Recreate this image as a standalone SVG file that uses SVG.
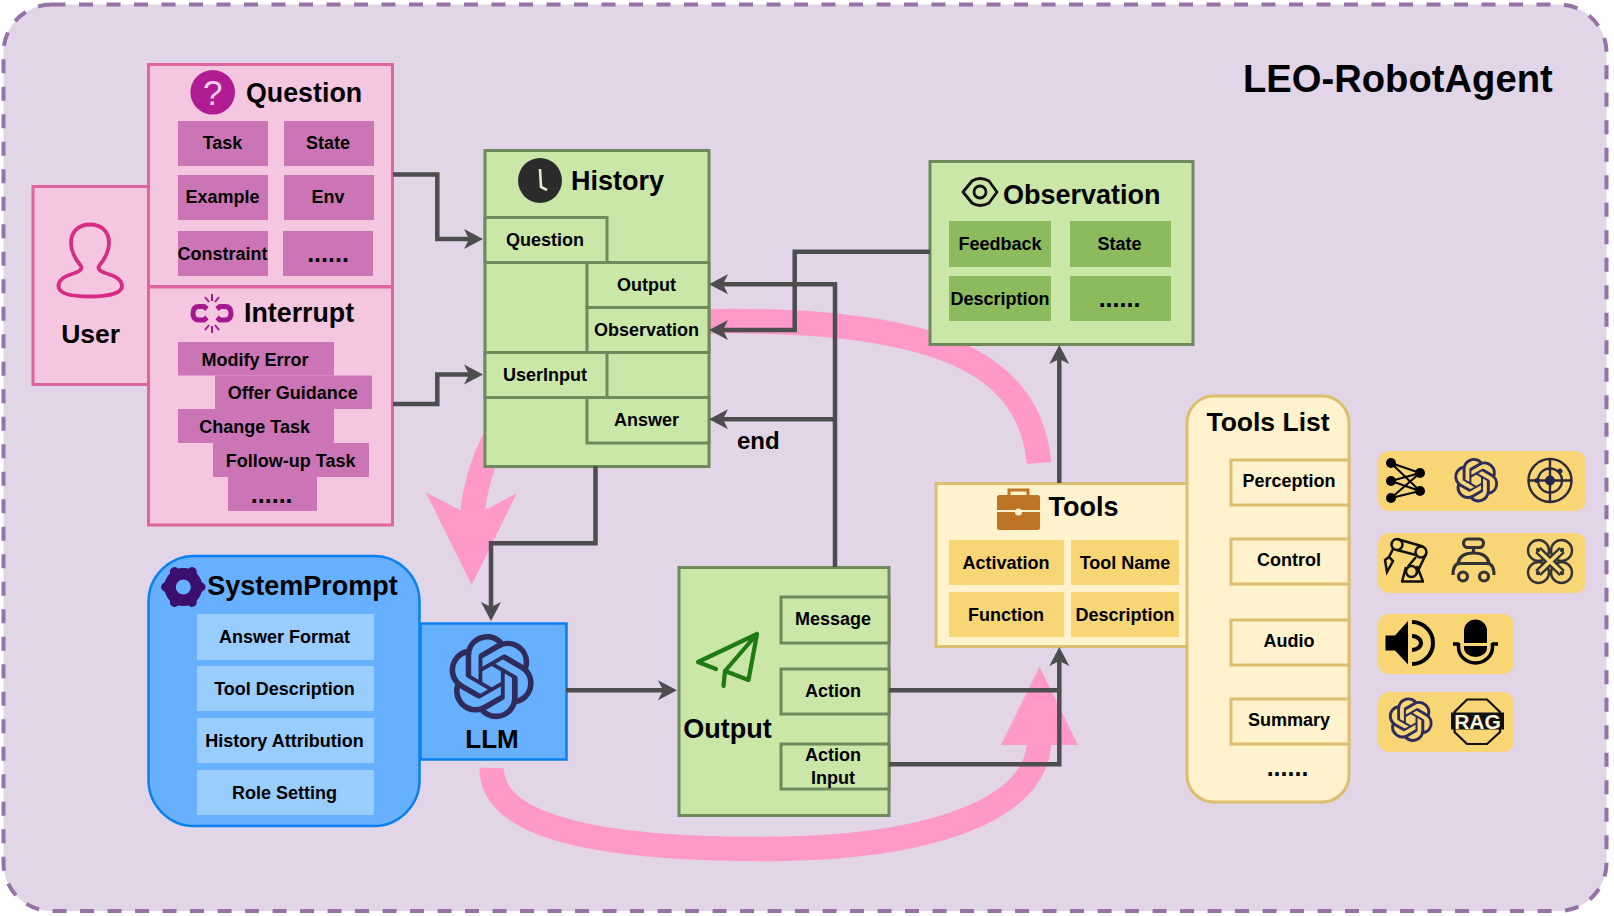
<svg xmlns="http://www.w3.org/2000/svg" xmlns:xlink="http://www.w3.org/1999/xlink" width="1614" height="916" viewBox="0 0 1614 916">
<style>
text{font-family:"Liberation Sans",Arial,sans-serif;font-weight:700;fill:#000}
.c{text-anchor:middle}
.s{font-size:18px}
.t{font-size:27px}
.d{font-size:25px}
.pink{fill:#f4c6e0;stroke:#e0659f;stroke-width:3}
.pi{fill:#cc75b6}
.green{fill:#cbe7a8;stroke:#6e8a5c;stroke-width:3}
.gi{fill:#8bbb5d}
.blue{fill:#66b0ff;stroke:#0a80f0;stroke-width:2.5}
.bi{fill:#99ccff}
.yel{fill:#fff2cc;stroke:#dcbf6e;stroke-width:3}
.yi{fill:#f8d676}
.line{fill:none;stroke:#4d4d4f;stroke-width:4.5}
.conn{fill:none;stroke:#4d4d4f;stroke-width:4.5;marker-end:url(#ah)}
.flow{fill:none;stroke:#ff99c9;stroke-width:24.5}
.ic{fill:none;stroke:#2e2a35;stroke-width:2.4}
</style>
<defs>
<marker id="ah" markerUnits="userSpaceOnUse" markerWidth="20" markerHeight="22" refX="5" refY="11" orient="auto"><path d="M19 11 L0 1 L5 11 L0 21 Z" fill="#4d4d4f"/></marker>
<path id="knot" fill-rule="evenodd" d="M22.2819 9.8211a5.9847 5.9847 0 0 0-.5157-4.9108 6.0462 6.0462 0 0 0-6.5098-2.9A6.0651 6.0651 0 0 0 4.9807 4.1818a5.9847 5.9847 0 0 0-3.9977 2.9 6.0462 6.0462 0 0 0 .7427 7.0966 5.98 5.98 0 0 0 .511 4.9107 6.051 6.051 0 0 0 6.5146 2.9001A5.9847 5.9847 0 0 0 13.2599 24a6.0557 6.0557 0 0 0 5.7718-4.2058 5.9894 5.9894 0 0 0 3.9977-2.9001 6.0557 6.0557 0 0 0-.7475-7.0729zm-9.022 12.6081a4.4755 4.4755 0 0 1-2.8764-1.0408l.1419-.0804 4.7783-2.7582a.7948.7948 0 0 0 .3927-.6813v-6.7369l2.02 1.1686a.071.071 0 0 1 .038.052v5.5826a4.504 4.504 0 0 1-4.4945 4.4944zm-9.6607-4.1254a4.4708 4.4708 0 0 1-.5346-3.0137l.142.0852 4.783 2.7582a.7712.7712 0 0 0 .7806 0l5.8428-3.3685v2.3324a.0804.0804 0 0 1-.0332.0615L9.74 19.9502a4.4992 4.4992 0 0 1-6.1408-1.6464zM2.3408 7.8956a4.485 4.485 0 0 1 2.3655-1.9728V11.6a.7664.7664 0 0 0 .3879.6765l5.8144 3.3543-2.0201 1.1685a.0757.0757 0 0 1-.071 0l-4.8303-2.7865A4.504 4.504 0 0 1 2.3408 7.872zm16.5963 3.8558L13.1038 8.364 15.1192 7.2a.0757.0757 0 0 1 .071 0l4.8303 2.7913a4.4944 4.4944 0 0 1-.6765 8.1042v-5.6772a.79.79 0 0 0-.407-.667zm2.0107-3.0231l-.142-.0852-4.7735-2.7818a.7759.7759 0 0 0-.7854 0L9.409 9.2297V6.8974a.0662.0662 0 0 1 .0284-.0615l4.8303-2.7866a4.4992 4.4992 0 0 1 6.6802 4.66zM8.3065 12.863l-2.02-1.1638a.0804.0804 0 0 1-.038-.0567V6.0742a4.4992 4.4992 0 0 1 7.3757-3.4537l-.142.0805L8.704 5.459a.7948.7948 0 0 0-.3927.6813zm1.0976-2.3654l2.602-1.4998 2.6069 1.4998v2.9994l-2.5974 1.4997-2.6067-1.4997Z"/>
</defs>
<rect width="1614" height="916" fill="#fff"/>
<g id="frame"><rect x="3.500" y="4.500" width="1603" height="906.500" rx="48" fill="#e1d5e7" stroke="#9673a6" stroke-width="4" stroke-dasharray="14 13.500"/>
<text x="1243" y="92" style="font-size:38.200px">LEO-RobotAgent</text></g>

<g id="flow-arrows">
<path class="flow" d="M1039 463 C1030 360 930 321 730 321 C600 321 490 380 472.500 511"/>
<path d="M426 492.400 L460 510 L485 510 L517 493 L471.700 585 Z" fill="#ff99c9"/>
<path class="flow" d="M491.700 768 C491 830 610 849 762 849 C930 849 1035 810 1039 744"/>
<path d="M1001 745 L1078 745 L1039.600 666.700 Z" fill="#ff99c9"/>
</g>

<g id="node-user">
<rect class="pink" x="33" y="186.500" width="115.500" height="198"/>
<path d="M90 224.500 C78 224.500 71 232 71 243 C71 253 76 260 81 266 C83 270 78 272 72 274 C62 277 58.500 281 58.500 286 C58.500 293 70 296.500 90 296.500 C110 296.500 122 293 122 286 C122 281 118 277 108 274 C102 272 97 270 99 266 C104 260 109 253 109 243 C109 232 102 224.500 90 224.500 Z" fill="none" stroke="#d62c86" stroke-width="3.800"/>
<text class="c" x="90.700" y="343" style="font-size:26.500px">User</text>
</g>

<g id="node-question">
<rect class="pink" x="148.500" y="64.500" width="244" height="222"/>
<circle cx="212.700" cy="92.300" r="22.300" fill="#b11c94"/>
<text class="c" x="212.700" y="105" style="font-size:35px;font-weight:400;fill:#f6cfe6">?</text>
<text x="246" y="101.500" style="font-size:26.800px">Question</text>
<rect class="pi" x="178" y="121" width="90" height="45"/><text class="c s" x="222.500" y="149">Task</text>
<rect class="pi" x="284" y="121" width="90" height="45"/><text class="c s" x="328" y="149">State</text>
<rect class="pi" x="178" y="175" width="90" height="45"/><text class="c s" x="222.500" y="203">Example</text>
<rect class="pi" x="284" y="175" width="90" height="45"/><text class="c s" x="328" y="203">Env</text>
<rect class="pi" x="178" y="231" width="90" height="45"/><text class="c s" x="222.500" y="259.500">Constraint</text>
<rect class="pi" x="283" y="231" width="90" height="45"/><text class="c d" x="328" y="262">......</text>
</g>

<g id="node-interrupt">
<rect class="pink" x="148.500" y="287" width="244" height="238"/>
<g fill="none" stroke="#a6188f" stroke-width="5" stroke-linejoin="round">
<path d="M207 309 L204 306.500 H199 Q193 306.500 193 313.500 Q193 320 199 320 H204 L207 317.500"/>
<path d="M217 309 L220 306.500 H225 Q231 306.500 231 313.500 Q231 320 225 320 H220 L217 317.500"/>
</g>
<g stroke="#a6188f" stroke-width="2" fill="none"><path d="M212 294 V301 M205 297 L209 302 M219 297 L215 302 M212 326 V333 M205 330 L209 325 M219 330 L215 325"/></g>
<text x="244" y="322" style="font-size:26.800px">Interrupt</text>
<rect class="pi" x="178" y="342" width="156" height="33.500"/><text class="c s" x="255" y="365.700">Modify Error</text>
<rect class="pi" x="215" y="375.500" width="157" height="33.500"/><text class="c s" x="292.700" y="399.400">Offer Guidance</text>
<rect class="pi" x="178" y="409" width="156" height="34"/><text class="c s" x="254.700" y="433">Change Task</text>
<rect class="pi" x="213" y="443" width="156" height="34"/><text class="c s" x="290.700" y="467">Follow-up Task</text>
<rect class="pi" x="228" y="477" width="89" height="34"/><text class="c d" x="271.700" y="503">......</text>
</g>

<g id="node-history">
<rect class="green" x="485" y="150.500" width="224" height="316"/>
<ellipse cx="540" cy="180.500" rx="22" ry="22.500" fill="#2b2b2b"/>
<path d="M540 169 L541 187 L547 190" fill="none" stroke="#dfeecb" stroke-width="2.600"/>
<text x="571" y="190" class="t">History</text>
<rect class="green" x="485" y="217.500" width="122" height="45"/><text class="c s" x="545" y="246">Question</text>
<rect class="green" x="587" y="262.500" width="122" height="45"/><text class="c s" x="646.500" y="291">Output</text>
<rect class="green" x="587" y="307.500" width="122" height="45"/><text class="c s" x="646.500" y="336">Observation</text>
<rect class="green" x="485" y="352.500" width="122" height="45"/><text class="c s" x="545" y="381">UserInput</text>
<rect class="green" x="587" y="397.500" width="122" height="45.500"/><text class="c s" x="646.500" y="426">Answer</text>
</g>

<g id="node-observation">
<rect class="green" x="930" y="161.500" width="263" height="183"/>
<path d="M963 192 L972 181 Q980 176 989 181 L997 192 L989 203 Q980 208 972 203 Z" fill="none" stroke="#111" stroke-width="2.800" stroke-linejoin="round"/>
<circle cx="980" cy="192" r="6" fill="none" stroke="#111" stroke-width="2.800"/>
<text x="1003" y="204" class="t">Observation</text>
<rect class="gi" x="949" y="221" width="102" height="46"/><text class="c s" x="1000" y="250">Feedback</text>
<rect class="gi" x="1070" y="221" width="101" height="46"/><text class="c s" x="1119.500" y="250">State</text>
<rect class="gi" x="949" y="276" width="102" height="45"/><text class="c s" x="1000" y="305">Description</text>
<rect class="gi" x="1070" y="276" width="101" height="45"/><text class="c d" x="1119.500" y="307">......</text>
</g>

<g id="node-systemprompt">
<rect class="blue" x="148.500" y="556" width="271" height="270" rx="46"/>
<g transform="translate(183.300 587)">
<circle r="13" fill="none" stroke="#3a0f6e" stroke-width="12"/>
<g stroke="#3a0f6e" stroke-width="9.500" stroke-linecap="round"><path d="M12 0 L17.500 0 M6 10.400 L8.750 15.200 M-6 10.400 L-8.750 15.200 M-12 0 L-17.500 0 M-6 -10.400 L-8.750 -15.200 M6 -10.400 L8.750 -15.200"/></g>
<circle r="7.500" fill="#66b0ff"/>
</g>
<text x="207.300" y="595" class="t">SystemPrompt</text>
<rect class="bi" x="197" y="614" width="177" height="46"/><text class="c s" x="284.500" y="642.700">Answer Format</text>
<rect class="bi" x="197" y="666" width="177" height="45"/><text class="c s" x="284.500" y="694.700">Tool Description</text>
<rect class="bi" x="197" y="718" width="177" height="45"/><text class="c s" x="284.500" y="746.700">History Attribution</text>
<rect class="bi" x="197" y="770" width="177" height="45"/><text class="c s" x="284.500" y="798.700">Role Setting</text>
</g>

<g id="node-llm">
<rect class="blue" x="420.500" y="623.500" width="146" height="136"/>
<use xlink:href="#knot" href="#knot" transform="translate(449 634) scale(3.550)" fill="#2f2c5c"/>
<text class="c" x="492" y="748.300" style="font-size:26px">LLM</text>
</g>

<g id="node-output">
<rect class="green" x="679" y="567.500" width="210" height="248"/>
<path d="M757 634 L698 662 L716 669 M757 634 L748.500 680 L725 671 M757 634 L725 671 L723.500 686" fill="none" stroke="#1f7a12" stroke-width="4.200" stroke-linecap="round" stroke-linejoin="round"/>
<text class="c t" x="727.500" y="738">Output</text>
<rect class="green" x="781" y="597" width="108" height="46"/><text class="c s" x="833" y="625">Message</text>
<rect class="green" x="781" y="669" width="108" height="45"/><text class="c s" x="833" y="697">Action</text>
<rect class="green" x="781" y="744" width="108" height="45"/><text class="c s" x="833" y="760.700">Action</text><text class="c s" x="833" y="783.500">Input</text>
</g>

<g id="node-tools">
<rect class="yel" x="936" y="483.500" width="252" height="163"/>
<rect x="997" y="495" width="43" height="35" rx="2.500" fill="#bd7425"/>
<path d="M1009 495 V490 H1028 V495" fill="none" stroke="#bd7425" stroke-width="3"/>
<path d="M997 511 H1040" stroke="#fff2cc" stroke-width="2"/>
<circle cx="1018.500" cy="512" r="3.500" fill="#fff2cc"/>
<text x="1048.600" y="516" class="t">Tools</text>
<rect class="yi" x="949" y="540" width="115" height="45"/><text class="c s" x="1006" y="569">Activation</text>
<rect class="yi" x="1071" y="540" width="108" height="45"/><text class="c s" x="1125" y="569">Tool Name</text>
<rect class="yi" x="949" y="592" width="115" height="45"/><text class="c s" x="1006" y="621">Function</text>
<rect class="yi" x="1071" y="592" width="108" height="45"/><text class="c s" x="1125" y="621">Description</text>
</g>

<g id="node-toolslist">
<rect class="yel" x="1187" y="396" width="162" height="406" rx="27"/>
<text class="c" x="1268" y="431" style="font-size:26.500px">Tools List</text>
<rect class="yel" x="1231" y="460" width="118" height="45"/><text class="c s" x="1289" y="487">Perception</text>
<rect class="yel" x="1231" y="539" width="118" height="45"/><text class="c s" x="1289" y="566">Control</text>
<rect class="yel" x="1231" y="620" width="118" height="45"/><text class="c s" x="1289" y="647">Audio</text>
<rect class="yel" x="1231" y="699" width="118" height="45"/><text class="c s" x="1289" y="726">Summary</text>
<text class="c d" x="1287.500" y="776">......</text>
</g>

<g id="connectors">
<path class="conn" d="M393 174.600 H437.300 V239 H469"/>
<path class="conn" d="M393 404 H437.300 V374.600 H469"/>
<path class="conn" d="M930 251.700 H794.700 V330 H723"/>
<path class="conn" d="M835 567 V284.300 H723"/>
<path class="conn" d="M835 419.300 H723"/>
<path class="conn" d="M595.500 466 V543.300 H491 V607"/>
<path class="conn" d="M566 690.300 H663"/>
<path class="line" d="M889 690.300 H1059.300"/>
<path class="conn" d="M889 764.300 H1059.300 V661"/>
<path class="conn" d="M1059.300 483 V359"/>
<text x="737" y="449" style="font-size:24px">end</text>
</g>

<g transform="translate(-3 0)">
<g id="icons-perception">
<rect class="yi" x="1381" y="451" width="208" height="60" rx="11"/>
<g stroke="#000" stroke-width="2"><path d="M1394 463 L1423 473 M1394 463 L1423 491 M1394 481 L1423 473 M1394 481 L1423 491 M1394 498 L1423 473 M1394 498 L1423 491"/></g>
<g fill="#000"><circle cx="1394" cy="463" r="5"/><circle cx="1394" cy="481" r="5"/><circle cx="1394" cy="498" r="5"/><circle cx="1423" cy="473" r="5"/><circle cx="1423" cy="491" r="5"/></g>
<use xlink:href="#knot" href="#knot" transform="translate(1457 458) scale(1.850)" fill="#2f2c5c"/>
<g class="ic"><circle cx="1553" cy="480.500" r="21.500"/><circle cx="1553" cy="480.500" r="12"/><path d="M1531 480.500 H1575 M1553 459 V502"/></g>
<circle cx="1553" cy="480.500" r="5" fill="#25254a"/><circle cx="1540" cy="480.500" r="2.500" fill="#25254a"/><circle cx="1563" cy="471" r="2.500" fill="#25254a"/>
</g>

<g id="icons-control">
<rect class="yi" x="1381" y="533" width="208" height="60" rx="11"/>
<g fill="none" stroke="#111" stroke-width="2.500">
<circle cx="1400" cy="544.500" r="5.500"/><circle cx="1424" cy="552" r="5.500"/><circle cx="1414.500" cy="571.500" r="5.500"/>
<path d="M1400 539 L1426 546.500 M1400 550 L1419 555 M1429 554 L1419.500 574 M1419 557 L1411 566.500"/>
<path d="M1405 581.500 L1409 567 M1426 581.500 L1420 566 M1404 581.500 H1427"/>
<path d="M1396 549 L1392 557 L1396 561 L1390 572 L1388 560 L1392 557"/>
</g>
<g fill="none" stroke="#333" stroke-width="3.200">
<rect x="1466.500" y="539" width="20" height="8.500" rx="4.200"/><path d="M1476.500 548 V553"/>
<path d="M1461 563 Q1463 553 1476.500 553 Q1490 553 1492 563 M1456 575 Q1456 563.500 1463 563.500 H1490 Q1497 563.500 1497 575"/>
<circle cx="1466" cy="576.500" r="4.500"/><circle cx="1487" cy="576.500" r="4.500"/>
</g>
<g fill="none" stroke="#333" stroke-width="2.400">
<circle cx="1541.500" cy="550.500" r="10.500"/><circle cx="1564.500" cy="550.500" r="10.500"/><circle cx="1541.500" cy="572.500" r="10.500"/><circle cx="1564.500" cy="572.500" r="10.500"/>
</g>
<path d="M1541 550 L1565 573 M1565 550 L1541 573" stroke="#333" stroke-width="8"/>
<path d="M1541 550 L1565 573 M1565 550 L1541 573" stroke="#f8d676" stroke-width="3.500"/>
<g fill="#333"><circle cx="1541" cy="550" r="2.200"/><circle cx="1565" cy="550" r="2.200"/><circle cx="1541" cy="573" r="2.200"/><circle cx="1565" cy="573" r="2.200"/></g>
</g>

<g id="icons-audio">
<rect class="yi" x="1381" y="614" width="136" height="60" rx="11"/>
<path d="M1388.500 635.500 V650.500 H1398 L1411 664.500 V621 L1398 635.500 Z" fill="#000"/>
<path d="M1415 622 A21 21 0 0 1 1415 664 M1415 636 A9 7 0 0 1 1415 650" fill="none" stroke="#000" stroke-width="4"/>
<path d="M1467 643 V631 A11.500 11.500 0 0 1 1490 631 V643 Z M1467 646 H1490 V648 A11.500 9 0 0 1 1467 648 Z" fill="#000"/>
<path d="M1456 644 H1462 M1495 644 H1501" stroke="#000" stroke-width="3.500"/>
<path d="M1461.500 643 V647 A17 16 0 0 0 1495.500 647 V643" fill="none" stroke="#000" stroke-width="3.500"/>
</g>

<g id="icons-summary">
<rect class="yi" x="1381" y="692" width="136" height="60" rx="11"/>
<use xlink:href="#knot" href="#knot" transform="translate(1391.500 697.500) scale(1.850)" fill="#2f2c5c"/>
<path d="M1470 699.500 H1490 L1503 712 V732 L1490 744 H1470 L1457.500 732 V712 Z" fill="none" stroke="#111" stroke-width="2.200"/>
<rect x="1454" y="712.500" width="53" height="17" fill="#111"/>
<text class="c" x="1480.500" y="728.500" style="font-size:21px;fill:#fff8dc">RAG</text>
</g>
</g>
</svg>
